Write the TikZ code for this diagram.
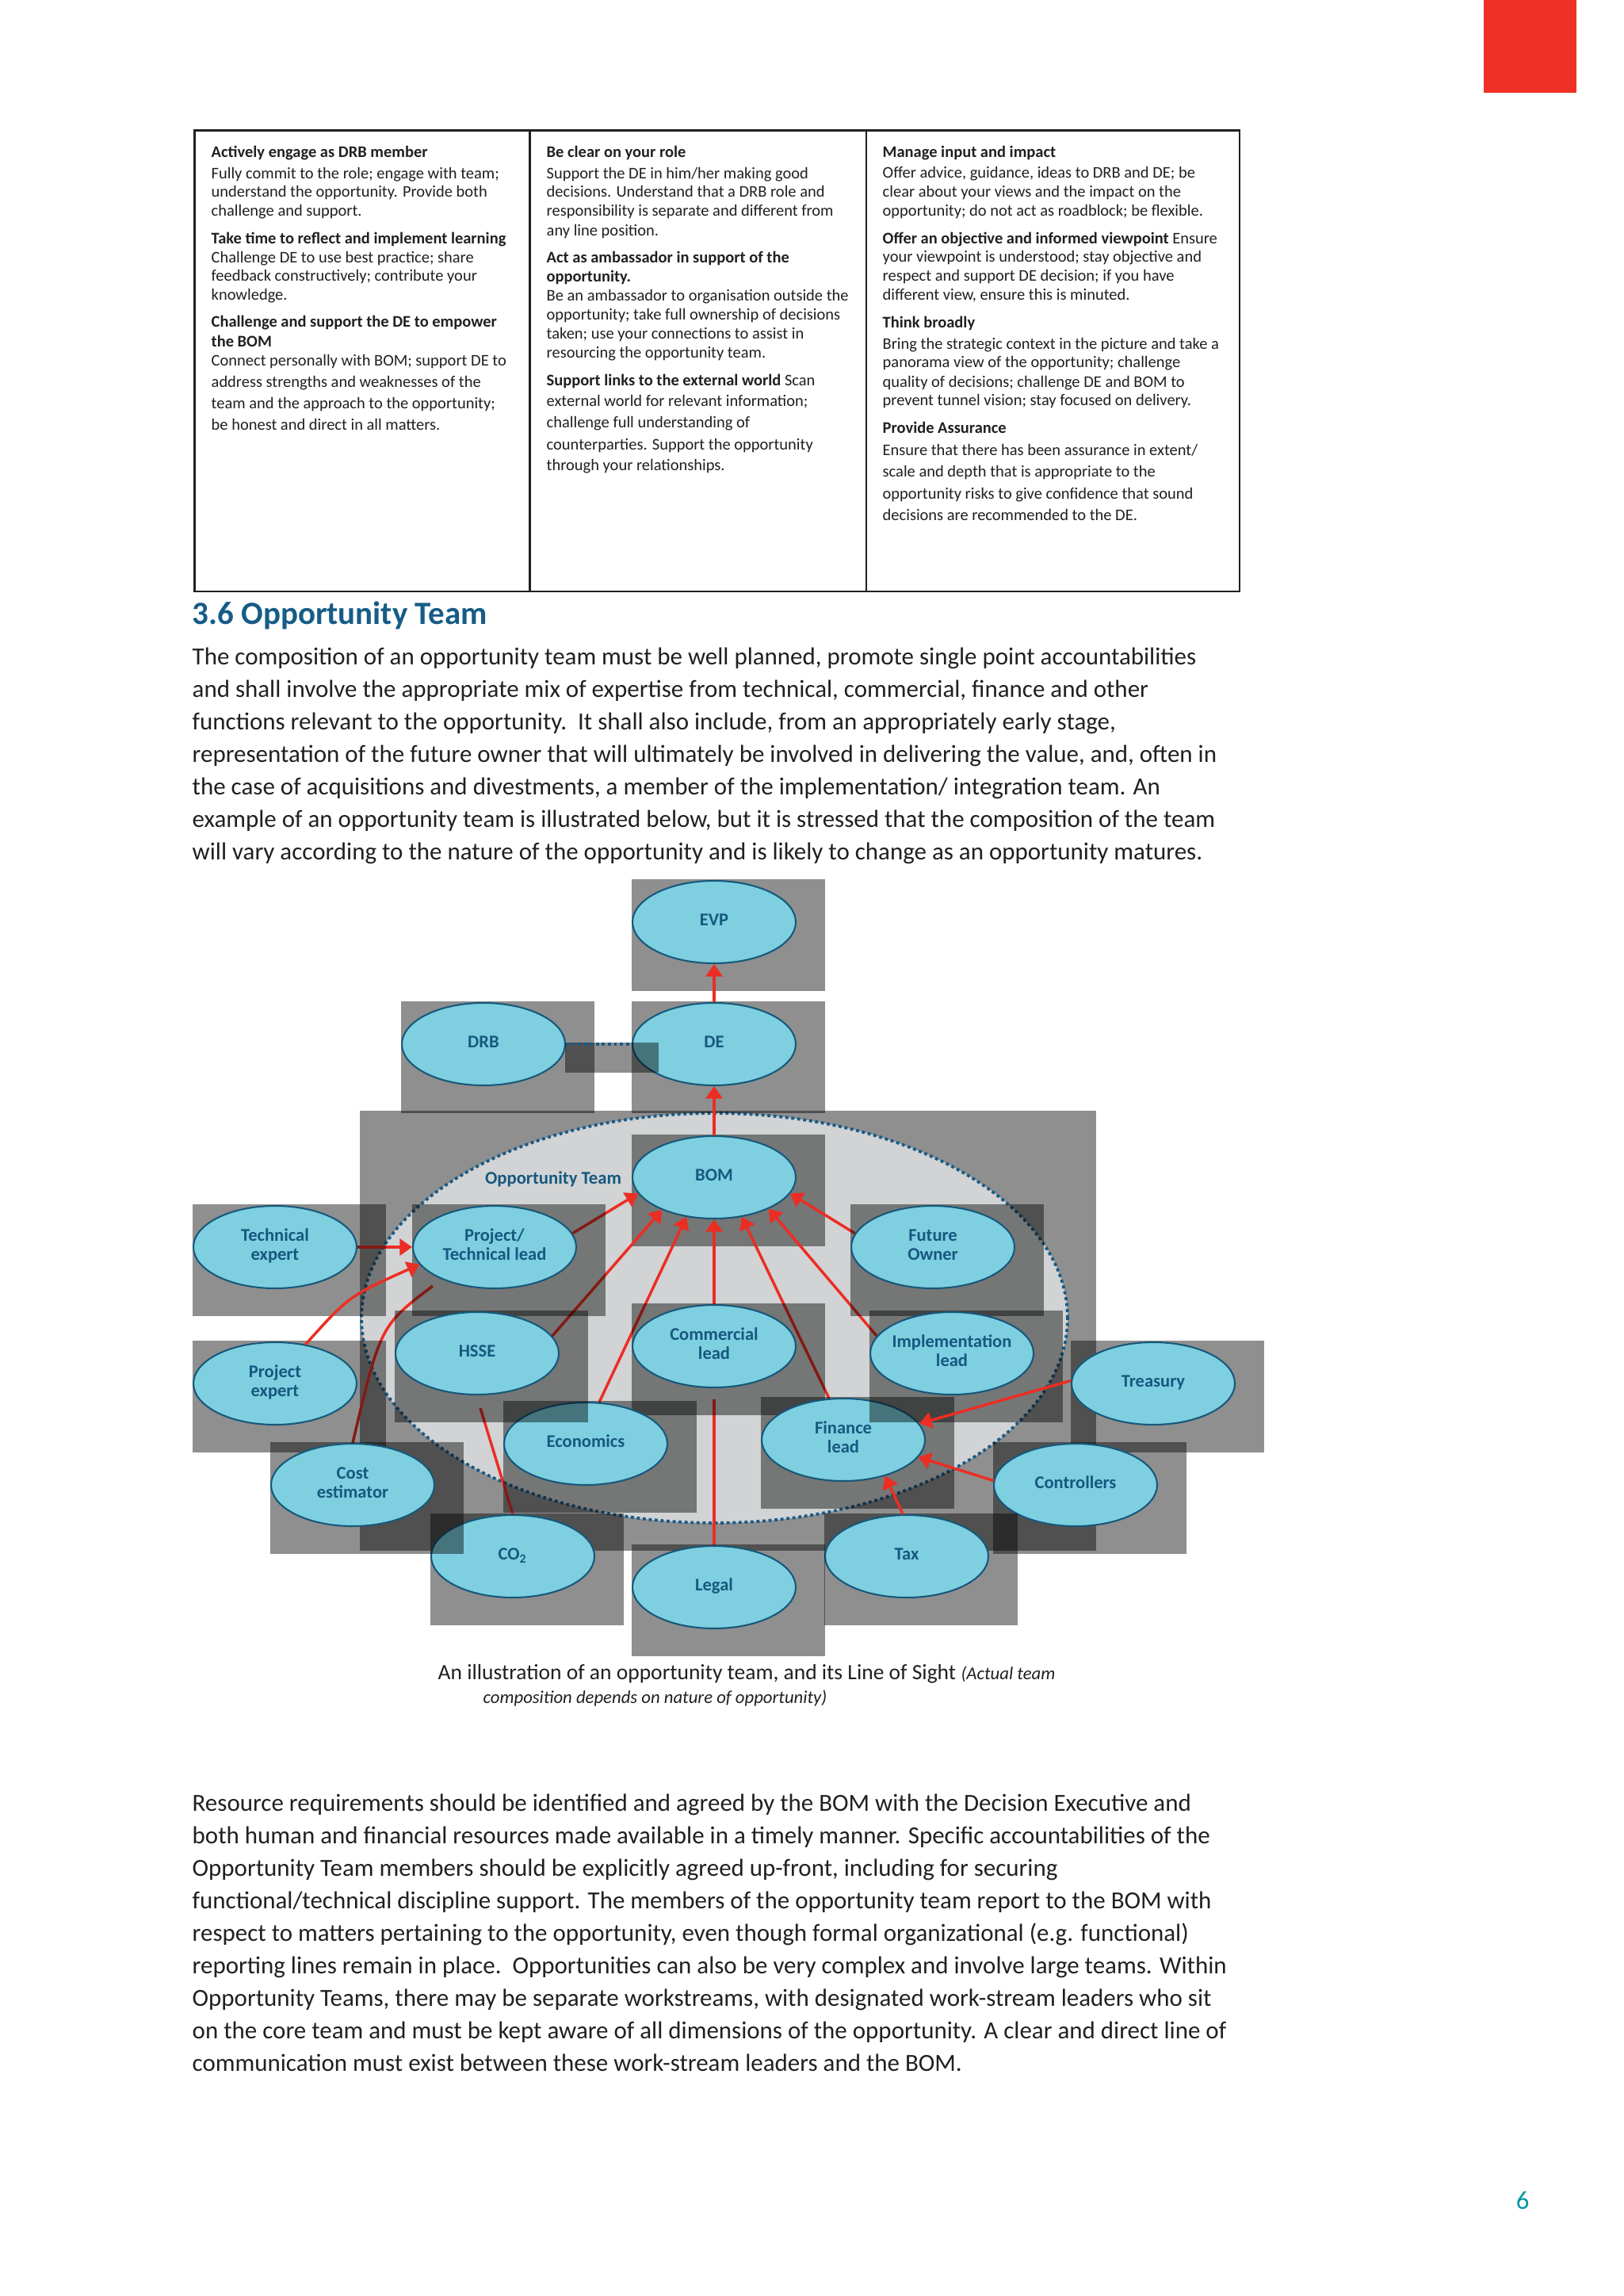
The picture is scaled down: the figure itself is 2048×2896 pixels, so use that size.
\documentclass[tikz,border=0pt]{standalone}
\usepackage{fontspec}
\setmainfont{Carlito}
\usetikzlibrary{arrows.meta,calc,shapes.geometric}
\definecolor{pagered}{RGB}{238,49,36}
\definecolor{arrowred}{RGB}{236,45,35}
\definecolor{headblue}{RGB}{22,92,135}
\definecolor{nodefill}{RGB}{126,207,224}
\definecolor{nodeline}{RGB}{22,88,122}
\definecolor{nodetext}{RGB}{22,88,128}
\definecolor{teamgray}{RGB}{209,211,212}
\definecolor{dotblue}{RGB}{25,90,135}
\definecolor{bodytext}{RGB}{35,31,32}
\definecolor{pagenum}{RGB}{0,150,160}
\pgfdeclarelayer{bg}
\pgfdeclarelayer{upper}
\pgfdeclarelayer{lines}
\pgfdeclarelayer{fg}
\pgfsetlayers{bg,upper,lines,main,fg}
\newcommand{\lbl}[1]{\makebox[0pt]{\begin{tabular}{@{}c@{}}#1\end{tabular}}}
\newcommand{\member}[4]{%
  \fill[shadowbox] ({#2-104},{#3-54}) rectangle ({#2+140},{#3+87});
  \node[member] (#1) at (#2,#3) {\lbl{#4}};}
\newcommand{\tline}[5]{\node[#1] (#2) at (#3,#4) {#5};}
\begin{document}
\begin{tikzpicture}[x=0.2906pt,y=-0.2906pt,
  shadowbox/.style={fill=black,fill opacity=0.44},
  member/.style={ellipse,draw=nodeline,line width=0.6pt,fill=nodefill,
    minimum width=59.86pt,minimum height=30.22pt,inner sep=0pt,text=nodetext,
    font=\fontsize{6.55}{6.9}\selectfont\bfseries},
  redarrow/.style={draw=arrowred,line width=1pt,-{Triangle[length=4.5pt,width=6pt]}},
  redline/.style={draw=arrowred,line width=1pt},
  dotline/.style={draw=dotblue,line width=1.1pt,dash pattern=on 1.1pt off 1.1pt},
  tabtxt/.style={font=\fontsize{5.95}{7}\selectfont,inner sep=0pt,anchor=base west,text=bodytext},
  bodytxt/.style={font=\fontsize{9}{11}\selectfont,inner sep=0pt,anchor=base west,text=bodytext},
  captxt/.style={font=\fontsize{8}{9.6}\selectfont,inner sep=0pt,anchor=base west,text=bodytext},
  capit/.style={font=\fontsize{6.6}{8}\selectfont\itshape,inner sep=0pt,anchor=base west,text=bodytext},
  tableline/.style={draw=bodytext,line width=0.7pt}]
\useasboundingbox (0,0) rectangle (2048,2896);

% ---------- background layer: page, team area ----------
\begin{pgfonlayer}{bg}
\fill[white] (0,0) rectangle (2048,2896);
\fill[pagered] (1872,0) rectangle (1989,117);
\fill[shadowbox] (454,1401) rectangle (1383,1956);
\node[ellipse,draw=dotblue,fill=teamgray,line width=1.1pt,dash pattern=on 1.1pt off 1.1pt,
  minimum width=258.9pt,minimum height=150.2pt,inner sep=0pt] (team) at (901.5,1662.5) {};
\end{pgfonlayer}

% ---------- upper chain ----------
\begin{pgfonlayer}{upper}
\member{evp}{901}{1163}{EVP}
\member{de}{901}{1317}{DE}
\member{drb}{610}{1317}{DRB}
\member{bom}{901}{1485}{BOM}
\end{pgfonlayer}

% ---------- team members ----------
\member{techexp}{347}{1573}{Technical\\expert}
\member{proj}{624}{1573}{Project/\\Technical lead}
\member{fo}{1177}{1573}{Future\\Owner}
\member{pexp}{347}{1745}{Project\\expert}
\member{com}{901}{1698}{Commercial\\lead}
\member{econ}{739}{1821}{Economics}
\member{hsse}{602}{1707}{HSSE}
\member{fin}{1064}{1816}{Finance\\lead}
\member{impl}{1201}{1707}{Implementation\\lead}
\member{treas}{1455}{1745}{Treasury}
\member{co2}{647}{1963}{CO\textsubscript{2}}
\member{cost}{445}{1873}{Cost\\estimator}
\member{ctrl}{1357}{1873}{Controllers}
\member{tax}{1144}{1963}{Tax}
\member{legal}{901}{2002}{Legal}
\node[inner sep=0pt,text=nodetext,font=\fontsize{6.6}{7}\selectfont\bfseries] (teamlabel) at (698,1487) {Opportunity Team};

% ---------- connectors below the member boxes ----------
\begin{pgfonlayer}{lines}
\draw[redarrow] (proj.10) -- (bom.192);
\draw[redarrow] (hsse.13) -- (bom.212);
\draw[redarrow] (econ.72) -- (bom.235);
\draw[redarrow] (com.north) -- (bom.south);
\draw[redarrow] (fin.109) -- (bom.305);
\draw[redarrow] (impl.167) -- (bom.330);
\draw[redarrow] (fo.170) -- (bom.348);
\draw[redarrow] (techexp.east) -- (proj.west);
\coordinate (costend) at ($(proj.center)+(-78,49)$);
\draw[redline] (cost.north) .. controls (480,1672) .. (costend);
\coordinate (co2end) at ($(hsse.south)+(4,16)$);
\draw[redline] (co2.north) -- (co2end);
\coordinate (legalend) at ($(com.south)+(0,14)$);
\draw[redline] (legal.north) -- (legalend);
\end{pgfonlayer}

% ---------- connectors on top ----------
\begin{pgfonlayer}{fg}
\fill[shadowbox] ($(drb.east)+(-1,-2)$) rectangle ($(de.west)+(34,36)$);
\draw[dotline] (drb.east) -- (de.west);
\draw[redarrow] (de.north) -- (evp.south);
\draw[redarrow] (bom.north) -- (de.south);
\draw[redarrow] (treas.178) -- (fin.12);
\draw[redarrow] (ctrl.177) -- (fin.347);
\draw[redarrow] (tax.95) -- (fin.319);
\draw[redarrow] (pexp.52) .. controls (440,1635) .. (proj.193);
\end{pgfonlayer}

% ---------- table ----------
\draw[tableline] (245.5,164.5) rectangle (1564,746);
\draw[tableline] (668.5,164.5) -- (668.5,746);
\draw[tableline] (1093,164.5) -- (1093,746);

\tline{tabtxt}{a1}{266}{199}{\textbf{Actively engage as DRB member}}
\tline{tabtxt}{a2}{266}{226}{Fully commit to the role; engage with team;}
\tline{tabtxt}{a3}{266}{249}{understand the opportunity. Provide both}
\tline{tabtxt}{a4}{266}{273}{challenge and support.}
\tline{tabtxt}{a5}{266}{308}{\textbf{Take time to reflect and implement learning}}
\tline{tabtxt}{a6}{266}{332}{Challenge DE to use best practice; share}
\tline{tabtxt}{a7}{266}{355}{feedback constructively; contribute your}
\tline{tabtxt}{a8}{266}{379}{knowledge.}
\tline{tabtxt}{a9}{266}{413}{\textbf{Challenge and support the DE to empower}}
\tline{tabtxt}{a10}{266}{438}{\textbf{the BOM}}
\tline{tabtxt}{a11}{266}{462}{Connect personally with BOM; support DE to}
\tline{tabtxt}{a12}{266}{489}{address strengths and weaknesses of the}
\tline{tabtxt}{a13}{266}{516}{team and the approach to the opportunity;}
\tline{tabtxt}{a14}{266}{543}{be honest and direct in all matters.}

\tline{tabtxt}{b1}{689}{199}{\textbf{Be clear on your role}}
\tline{tabtxt}{b2}{689}{226}{Support the DE in him/her making good}
\tline{tabtxt}{b3}{689}{249}{decisions. Understand that a DRB role and}
\tline{tabtxt}{b4}{689}{273}{responsibility is separate and different from}
\tline{tabtxt}{b5}{689}{298}{any line position.}
\tline{tabtxt}{b6}{689}{332}{\textbf{Act as ambassador in support of the}}
\tline{tabtxt}{b7}{689}{356}{\textbf{opportunity.}}
\tline{tabtxt}{b8}{689}{380}{Be an ambassador to organisation outside the}
\tline{tabtxt}{b9}{689}{404}{opportunity; take full ownership of decisions}
\tline{tabtxt}{b10}{689}{428}{taken; use your connections to assist in}
\tline{tabtxt}{b11}{689}{452}{resourcing the opportunity team.}
\tline{tabtxt}{b12}{689}{487}{\textbf{Support links to the external world} Scan}
\tline{tabtxt}{b13}{689}{513}{external world for relevant information;}
\tline{tabtxt}{b14}{689}{540}{challenge full understanding of}
\tline{tabtxt}{b15}{689}{568}{counterparties. Support the opportunity}
\tline{tabtxt}{b16}{689}{594}{through your relationships.}

\tline{tabtxt}{c1}{1113}{199}{\textbf{Manage input and impact}}
\tline{tabtxt}{c2}{1113}{225}{Offer advice, guidance, ideas to DRB and DE; be}
\tline{tabtxt}{c3}{1113}{249}{clear about your views and the impact on the}
\tline{tabtxt}{c4}{1113}{273}{opportunity; do not act as roadblock; be flexible.}
\tline{tabtxt}{c5}{1113}{308}{\textbf{Offer an objective and informed viewpoint} Ensure}
\tline{tabtxt}{c6}{1113}{331}{your viewpoint is understood; stay objective and}
\tline{tabtxt}{c7}{1113}{355}{respect and support DE decision; if you have}
\tline{tabtxt}{c8}{1113}{379}{different view, ensure this is minuted.}
\tline{tabtxt}{c9}{1113}{414}{\textbf{Think broadly}}
\tline{tabtxt}{c10}{1113}{441}{Bring the strategic context in the picture and take a}
\tline{tabtxt}{c11}{1113}{464}{panorama view of the opportunity; challenge}
\tline{tabtxt}{c12}{1113}{489}{quality of decisions; challenge DE and BOM to}
\tline{tabtxt}{c13}{1113}{512}{prevent tunnel vision; stay focused on delivery.}
\tline{tabtxt}{c14}{1113}{547}{\textbf{Provide Assurance}}
\tline{tabtxt}{c15}{1113}{575}{Ensure that there has been assurance in extent/}
\tline{tabtxt}{c16}{1113}{602}{scale and depth that is appropriate to the}
\tline{tabtxt}{c17}{1113}{630}{opportunity risks to give confidence that sound}
\tline{tabtxt}{c18}{1113}{657}{decisions are recommended to the DE.}

% ---------- heading and body ----------
\node[inner sep=0pt,anchor=base west,text=headblue,font=\fontsize{11.9}{14}\selectfont\bfseries] (head) at (242,787) {3.6 Opportunity Team};

\tline{bodytxt}{p1}{242}{838}{The composition of an opportunity team must be well planned, promote single point accountabilities}
\tline{bodytxt}{p2}{242}{879}{and shall involve the appropriate mix of expertise from technical, commercial, finance and other}
\tline{bodytxt}{p3}{242}{920}{functions relevant to the opportunity.\ \ It shall also include, from an appropriately early stage,}
\tline{bodytxt}{p4}{242}{961}{representation of the future owner that will ultimately be involved in delivering the value, and, often in}
\tline{bodytxt}{p5}{242}{1002}{the case of acquisitions and divestments, a member of the implementation/ integration team. An}
\tline{bodytxt}{p6}{242}{1043}{example of an opportunity team is illustrated below, but it is stressed that the composition of the team}
\tline{bodytxt}{p7}{242}{1084}{will vary according to the nature of the opportunity and is likely to change as an opportunity matures.}

\tline{captxt}{cap1}{552}{2118}{An illustration of an opportunity team, and its Line of Sight {\fontsize{6.6}{8}\selectfont\itshape (Actual team}}
\tline{capit}{cap2}{609}{2148}{composition depends on nature of opportunity)}

\tline{bodytxt}{q1}{242}{2284}{Resource requirements should be identified and agreed by the BOM with the Decision Executive and}
\tline{bodytxt}{q2}{242}{2325}{both human and financial resources made available in a timely manner. Specific accountabilities of the}
\tline{bodytxt}{q3}{242}{2366}{Opportunity Team members should be explicitly agreed up-front, including for securing}
\tline{bodytxt}{q4}{242}{2407}{functional/technical discipline support. The members of the opportunity team report to the BOM with}
\tline{bodytxt}{q5}{242}{2448}{respect to matters pertaining to the opportunity, even though formal organizational (e.g. functional)}
\tline{bodytxt}{q6}{242}{2489}{reporting lines remain in place.\ \ Opportunities can also be very complex and involve large teams. Within}
\tline{bodytxt}{q7}{242}{2530}{Opportunity Teams, there may be separate workstreams, with designated work-stream leaders who sit}
\tline{bodytxt}{q8}{242}{2571}{on the core team and must be kept aware of all dimensions of the opportunity. A clear and direct line of}
\tline{bodytxt}{q9}{242}{2612}{communication must exist between these work-stream leaders and the BOM.}

\node[inner sep=0pt,text=pagenum,font=\fontsize{9.5}{11}\selectfont] (pagenumber) at (1921,2776) {6};
\end{tikzpicture}
\end{document}
